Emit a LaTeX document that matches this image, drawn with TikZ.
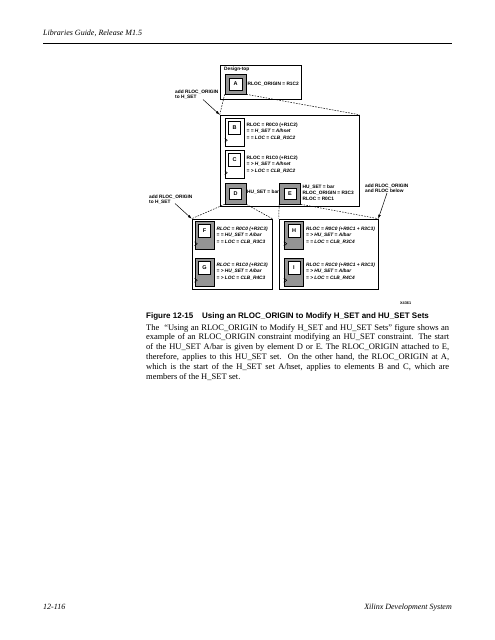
\documentclass[tikz,border=0pt]{standalone}
\usepackage{fontspec}
\setmainfont{Liberation Serif}
\setsansfont{Liberation Sans}
\usetikzlibrary{arrows.meta,positioning}
\definecolor{blockgray}{gray}{0.58}
\newcommand{\attrs}[3]{#1\\{\itshape #2}\\[1pt]{\itshape #3}}

\tikzset{
  tiny/.style={font=\sffamily\bfseries\fontsize{4.8}{6}\selectfont, inner sep=0pt, anchor=west, align=left},
  note/.style={tiny, font=\sffamily\bfseries\fontsize{4.8}{5}\selectfont},
  panel/.style={draw, line width=0.6pt, inner sep=0pt},
  wblk/.style={draw, line width=0.5pt, fill=white, minimum width=19pt, minimum height=28pt, inner sep=0pt},
  gblk/.style={wblk, fill=blockgray},
  sqblk/.style={draw, line width=0.6pt, fill=blockgray, minimum width=21pt, minimum height=21pt, inner sep=0pt},
  keybox/.style={draw, line width=0.7pt, fill=white, minimum width=12pt, minimum height=13pt, inner sep=0pt,
    font=\sffamily\bfseries\fontsize{5.5}{5.5}\selectfont},
  zoomline/.style={line width=0.5pt, dash pattern=on 1.6pt off 1.2pt},
  callout/.style={line width=0.5pt, -{Latex[length=4pt,width=2.6pt]}},
}

\begin{document}
\begin{tikzpicture}[x=1pt,y=-1pt]
  \useasboundingbox (0,0) rectangle (495,640);
  % page header
  \node[anchor=base west, inner sep=0pt, font=\itshape\fontsize{8}{9}\selectfont] (head) at (43,35) {Libraries Guide, Release M1.5};
  \draw[line width=0.8pt] (43,43) -- (452,43);

  % design top with A
  \node[panel, minimum width=81pt, minimum height=34pt] (top) at (260.5,82) {};
  \node[tiny] (toplbl) at (224,69) {Design-top};
  \node[sqblk, minimum height=20pt] (A) at (235.5,84) {};
  \node[keybox, minimum width=13pt, minimum height=12pt] (Akey) at (A) {A};
  \node[tiny] (Atxt) at (247.5,84) {RLOC\_ORIGIN = R1C2};

  % H_SET panel
  \node[panel, minimum width=139pt, minimum height=91pt] (hset) at (289.5,160.5) {};
  \foreach \n/\cx/\cy/\s in {B/234.5/132/wblk, C/234.5/164.5/wblk,
                              F/204.5/235.5/gblk, G/204.5/272/gblk,
                              H/293.5/235.5/gblk, I/293.5/272/gblk} {
    \node[\s] (\n) at (\cx,\cy) {};
    \node[keybox, anchor=north] (\n key) at ([yshift=-3pt]\n.north) {\n};
    \draw[line width=0.5pt] ([yshift=8pt]\n.south west) -- ++(2.5,2) -- ++(-2.5,2);
  }
  \node[tiny] (Btxt) at (246.5,132) {\attrs{RLOC = R0C0 (+R1C2)}{= = H\_SET = A/hset}{= = LOC = CLB\_R1C2}};
  \node[tiny] (Ctxt) at (246.5,164.5) {\attrs{RLOC = R1C0 (+R1C2)}{= > H\_SET = A/hset}{= > LOC = CLB\_R2C2}};

  % D and E start the HU_SET
  \node[sqblk] (D) at (235.5,193.5) {};
  \node[keybox, minimum height=11pt] (Dkey) at (D) {D};
  \node[tiny] (Dtxt) at (247,192.5) {HU\_SET = bar};
  \node[sqblk] (E) at (290,193.5) {};
  \node[keybox, minimum height=11pt] (Ekey) at (E) {E};
  \node[tiny] (Etxt) at (302.5,192.5) {HU\_SET = bar\\RLOC\_ORIGIN = R3C3\\RLOC = R0C1};

  % lower panels
  \node[panel, minimum width=80pt, minimum height=70pt] (fgset) at (232,254) {};
  \node[panel, minimum width=99pt, minimum height=70pt] (hiset) at (328.5,254) {};
  \foreach \n/\cx/\cy in {F/192/235.5, G/192/272, H/281.5/235.5, I/281.5/272} {
    \node[gblk] (\n) at (\cx+12.5,\cy) {};
    \node[keybox, anchor=north] (\n key) at ([yshift=-3pt]\n.north) {\n};
    \draw[line width=0.5pt] ([yshift=8pt]\n.south west) -- ++(2.5,2) -- ++(-2.5,2);
  }
  \node[tiny] (Ftxt) at (216.5,235.5) {\itshape\attrs{RLOC = R0C0 (+R3C3)}{= = HU\_SET = A/bar}{= = LOC = CLB\_R3C3}};
  \node[tiny] (Gtxt) at (216.5,272) {\itshape\attrs{RLOC = R1C0 (+R3C3)}{= > HU\_SET = A/bar}{= > LOC = CLB\_R4C3}};
  \node[tiny] (Htxt) at (306,235.5) {\itshape\attrs{RLOC = R0C0 (+R0C1 + R3C3)}{= > HU\_SET = A/bar}{= = LOC = CLB\_R3C4}};
  \node[tiny] (Itxt) at (306,272) {\itshape\attrs{RLOC = R1C0 (+R0C1 + R3C3)}{= > HU\_SET = A/bar}{= > LOC = CLB\_R4C4}};

  % zoom lines
  \draw[zoomline] (A.south west) -- (hset.north west);
  \draw[zoomline] (A.south east) -- (hset.north east);
  \draw[zoomline] (D.south west) -- (fgset.north west);
  \draw[zoomline] (D.south east) -- (fgset.north east);
  \draw[zoomline] (E.south west) -- (hiset.north west);
  \draw[zoomline] (E.south east) -- (hiset.north east);

  % callouts
  \node[note] (noteA) at (175,95) {add RLOC\_ORIGIN\\to H\_SET};
  \coordinate (noteAtail) at (203,99.5);
  \draw[callout] (noteAtail) -- (hset.north west);
  \node[note] (noteF) at (149,199.5) {add RLOC\_ORIGIN\\to H\_SET};
  \coordinate (noteFtail) at (175,203.5);
  \draw[callout] (noteFtail) -- (fgset.north west);
  \node[note] (noteH) at (365,188.5) {add RLOC\_ORIGIN\\and RLOC below};
  \coordinate (noteHtail) at (387,193);
  \draw[callout] (noteHtail) -- (hiset.north east);

  \node[anchor=west, inner sep=0pt, font=\sffamily\bfseries\fontsize{3.8}{4}\selectfont] (fignum) at (400,303) {X4361};

  % caption and text
  \node[anchor=base west, inner sep=0pt, font=\sffamily\bfseries\fontsize{8}{9}\selectfont] (capnum) at (146,318) {Figure 12-15};
  \node[anchor=base west, inner sep=0pt, font=\sffamily\bfseries\fontsize{8}{9}\selectfont] (captxt) at (202,318) {Using an RLOC\_ORIGIN to Modify H\_SET and HU\_SET Sets};
  \node[anchor=north west, inner sep=0pt, text width=303pt, align=justify, font=\fontsize{8.5}{9.8}\selectfont] (body) at (146,324)
    {The \ ``Using an RLOC\_ORIGIN to Modify H\_SET and HU\_SET Sets'' figure shows an\linebreak
     example of an RLOC\_ORIGIN constraint modifying an HU\_SET constraint. The start\linebreak
     of the HU\_SET A/bar is given by element D or E. The RLOC\_ORIGIN attached to E,\linebreak
     therefore, applies to this HU\_SET set. On the other hand, the RLOC\_ORIGIN at A,\linebreak
     which is the start of the H\_SET set A/hset, applies to elements B and C, which are\linebreak
     members of the H\_SET set.};

  % page footer
  \node[anchor=base west, inner sep=0pt, font=\itshape\fontsize{8}{9}\selectfont] (pagenum) at (43,609) {12-116};
  \node[anchor=base east, inner sep=0pt, font=\itshape\fontsize{8}{9}\selectfont] (book) at (452,609) {Xilinx Development System};
\end{tikzpicture}
\end{document}
